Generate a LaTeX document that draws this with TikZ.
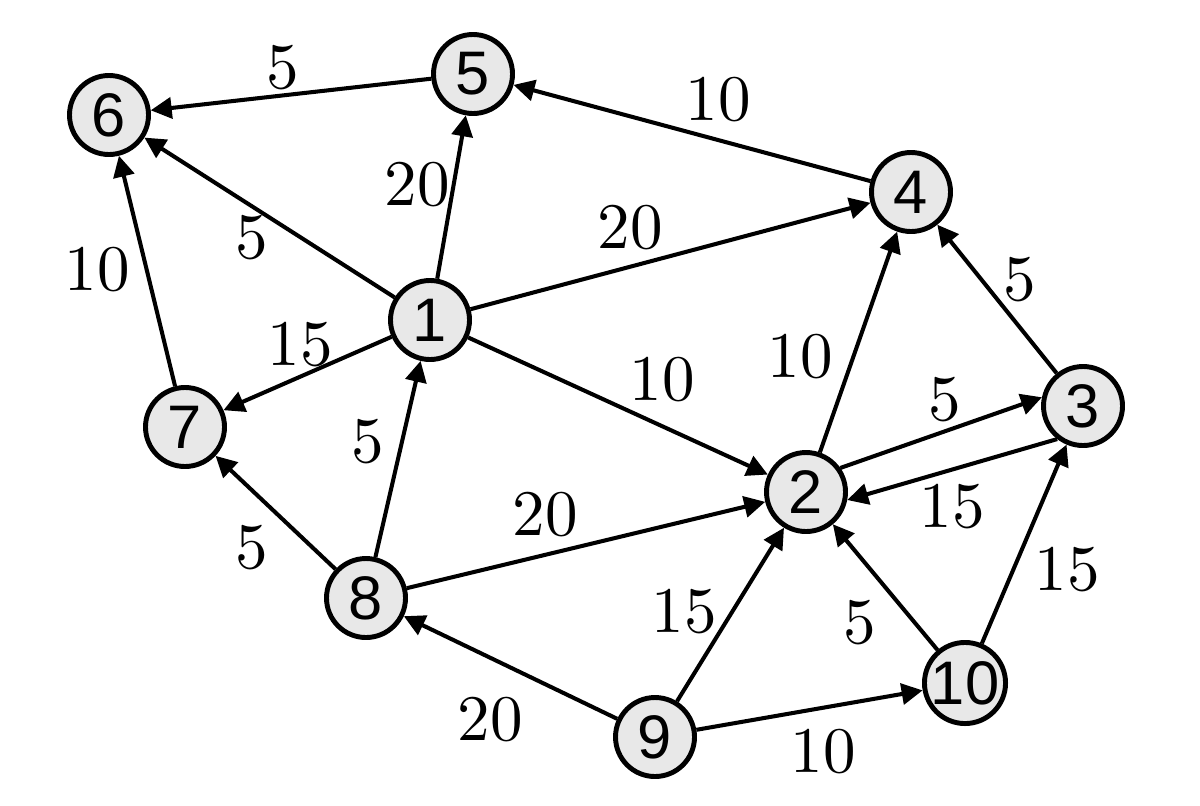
\documentclass[tikz,border=0pt]{standalone}
\usepackage{fontspec}
\usepackage{xcolor}
\usepackage{tikz}
\usetikzlibrary{arrows.meta}
\newfontfamily\numfont{Liberation Sans}
\newfontfamily\wgtfont{lmroman10-regular.otf}
\definecolor{ink}{HTML}{000000}
\definecolor{vtxbg}{HTML}{E8E8E8}
\tikzset{
  vtx/.style={circle,draw=ink,fill=vtxbg,line width=2.8pt,minimum size=1.58cm,inner sep=0pt,font=\numfont\fontsize{35}{35}\selectfont},
  flow/.style={-{Triangle[length=4.2mm,width=4.2mm]},line width=2.3pt,draw=ink},
  wgt/.style={font=\wgtfont\fontsize{37}{37}\selectfont,inner sep=0pt,text=ink},
}

\begin{document}
\begin{tikzpicture}
\useasboundingbox (0,0) rectangle (24,-16.1);

% ==== vertices ====
\node[vtx] (v1)  at (8.6,-6.4)    {1};
\node[vtx] (v2)  at (16.12,-9.84) {2};
\node[vtx] (v3)  at (21.66,-8.12) {3};
\node[vtx] (v4)  at (18.22,-3.84) {4};
\node[vtx] (v5)  at (9.46,-1.48)  {5};
\node[vtx] (v6)  at (2.18,-2.3)   {6};
\node[vtx] (v7)  at (3.7,-8.54)   {7};
\node[vtx] (v8)  at (7.32,-11.96) {8};
\node[vtx] (v9)  at (13.1,-14.74) {9};
\node[vtx] (v10) at (19.3,-13.66) {10};

% ==== directed edges ====
\draw[flow] (v5) -- (v6);
\draw[flow] (v1) -- (v6);
\draw[flow] (v1) -- (v5);
\draw[flow] (v4) -- (v5);
\draw[flow] (v1) -- (v4);
\draw[flow] (v7) -- (v6);
\draw[flow] (v1) -- (v7);
\draw[flow] (v1) -- (v2);
\draw[flow] (v8) -- (v1);
\draw[flow] (v8) -- (v7);
\draw[flow] (v8) -- (v2);
\draw[flow] (v2) -- (v4);
\draw[flow] (v3) -- (v4);
\draw[flow] (v2.35) -- (v3.168);
\draw[flow] (v3.232) -- (v2.349);
\draw[flow] (v9) -- (v8);
\draw[flow] (v9) -- (v2);
\draw[flow] (v9) -- (v10);
\draw[flow] (v10) -- (v2);
\draw[flow] (v10) -- (v3);

% ==== weights ====
\node[wgt] (w56)  at (5.66,-1.36)  {5};
\node[wgt] (w16)  at (5.04,-4.76)  {5};
\node[wgt] (w15)  at (8.34,-3.7)   {20};
\node[wgt] (w45)  at (14.36,-2.0)  {10};
\node[wgt] (w14)  at (12.6,-4.56)  {20};
\node[wgt] (w76)  at (1.94,-5.4)   {10};
\node[wgt] (w17)  at (6.0,-6.9)    {15};
\node[wgt] (w12)  at (13.24,-7.6)  {10};
\node[wgt] (w81)  at (7.36,-8.84)  {5};
\node[wgt] (w87)  at (5.04,-10.96) {5};
\node[wgt] (w82)  at (10.9,-10.3)  {20};
\node[wgt] (w24)  at (16.0,-7.14)  {10};
\node[wgt] (w34)  at (20.4,-5.6)   {5};
\node[wgt] (w23)  at (18.9,-8.0)   {5};
\node[wgt] (w32)  at (19.04,-10.14){15};
\node[wgt] (w98)  at (9.8,-14.4)   {20};
\node[wgt] (w92)  at (13.68,-12.24){15};
\node[wgt] (w910) at (16.46,-15.04){10};
\node[wgt] (w102) at (17.2,-12.46) {5};
\node[wgt] (w103) at (21.34,-11.4) {15};

\end{tikzpicture}
\end{document}
